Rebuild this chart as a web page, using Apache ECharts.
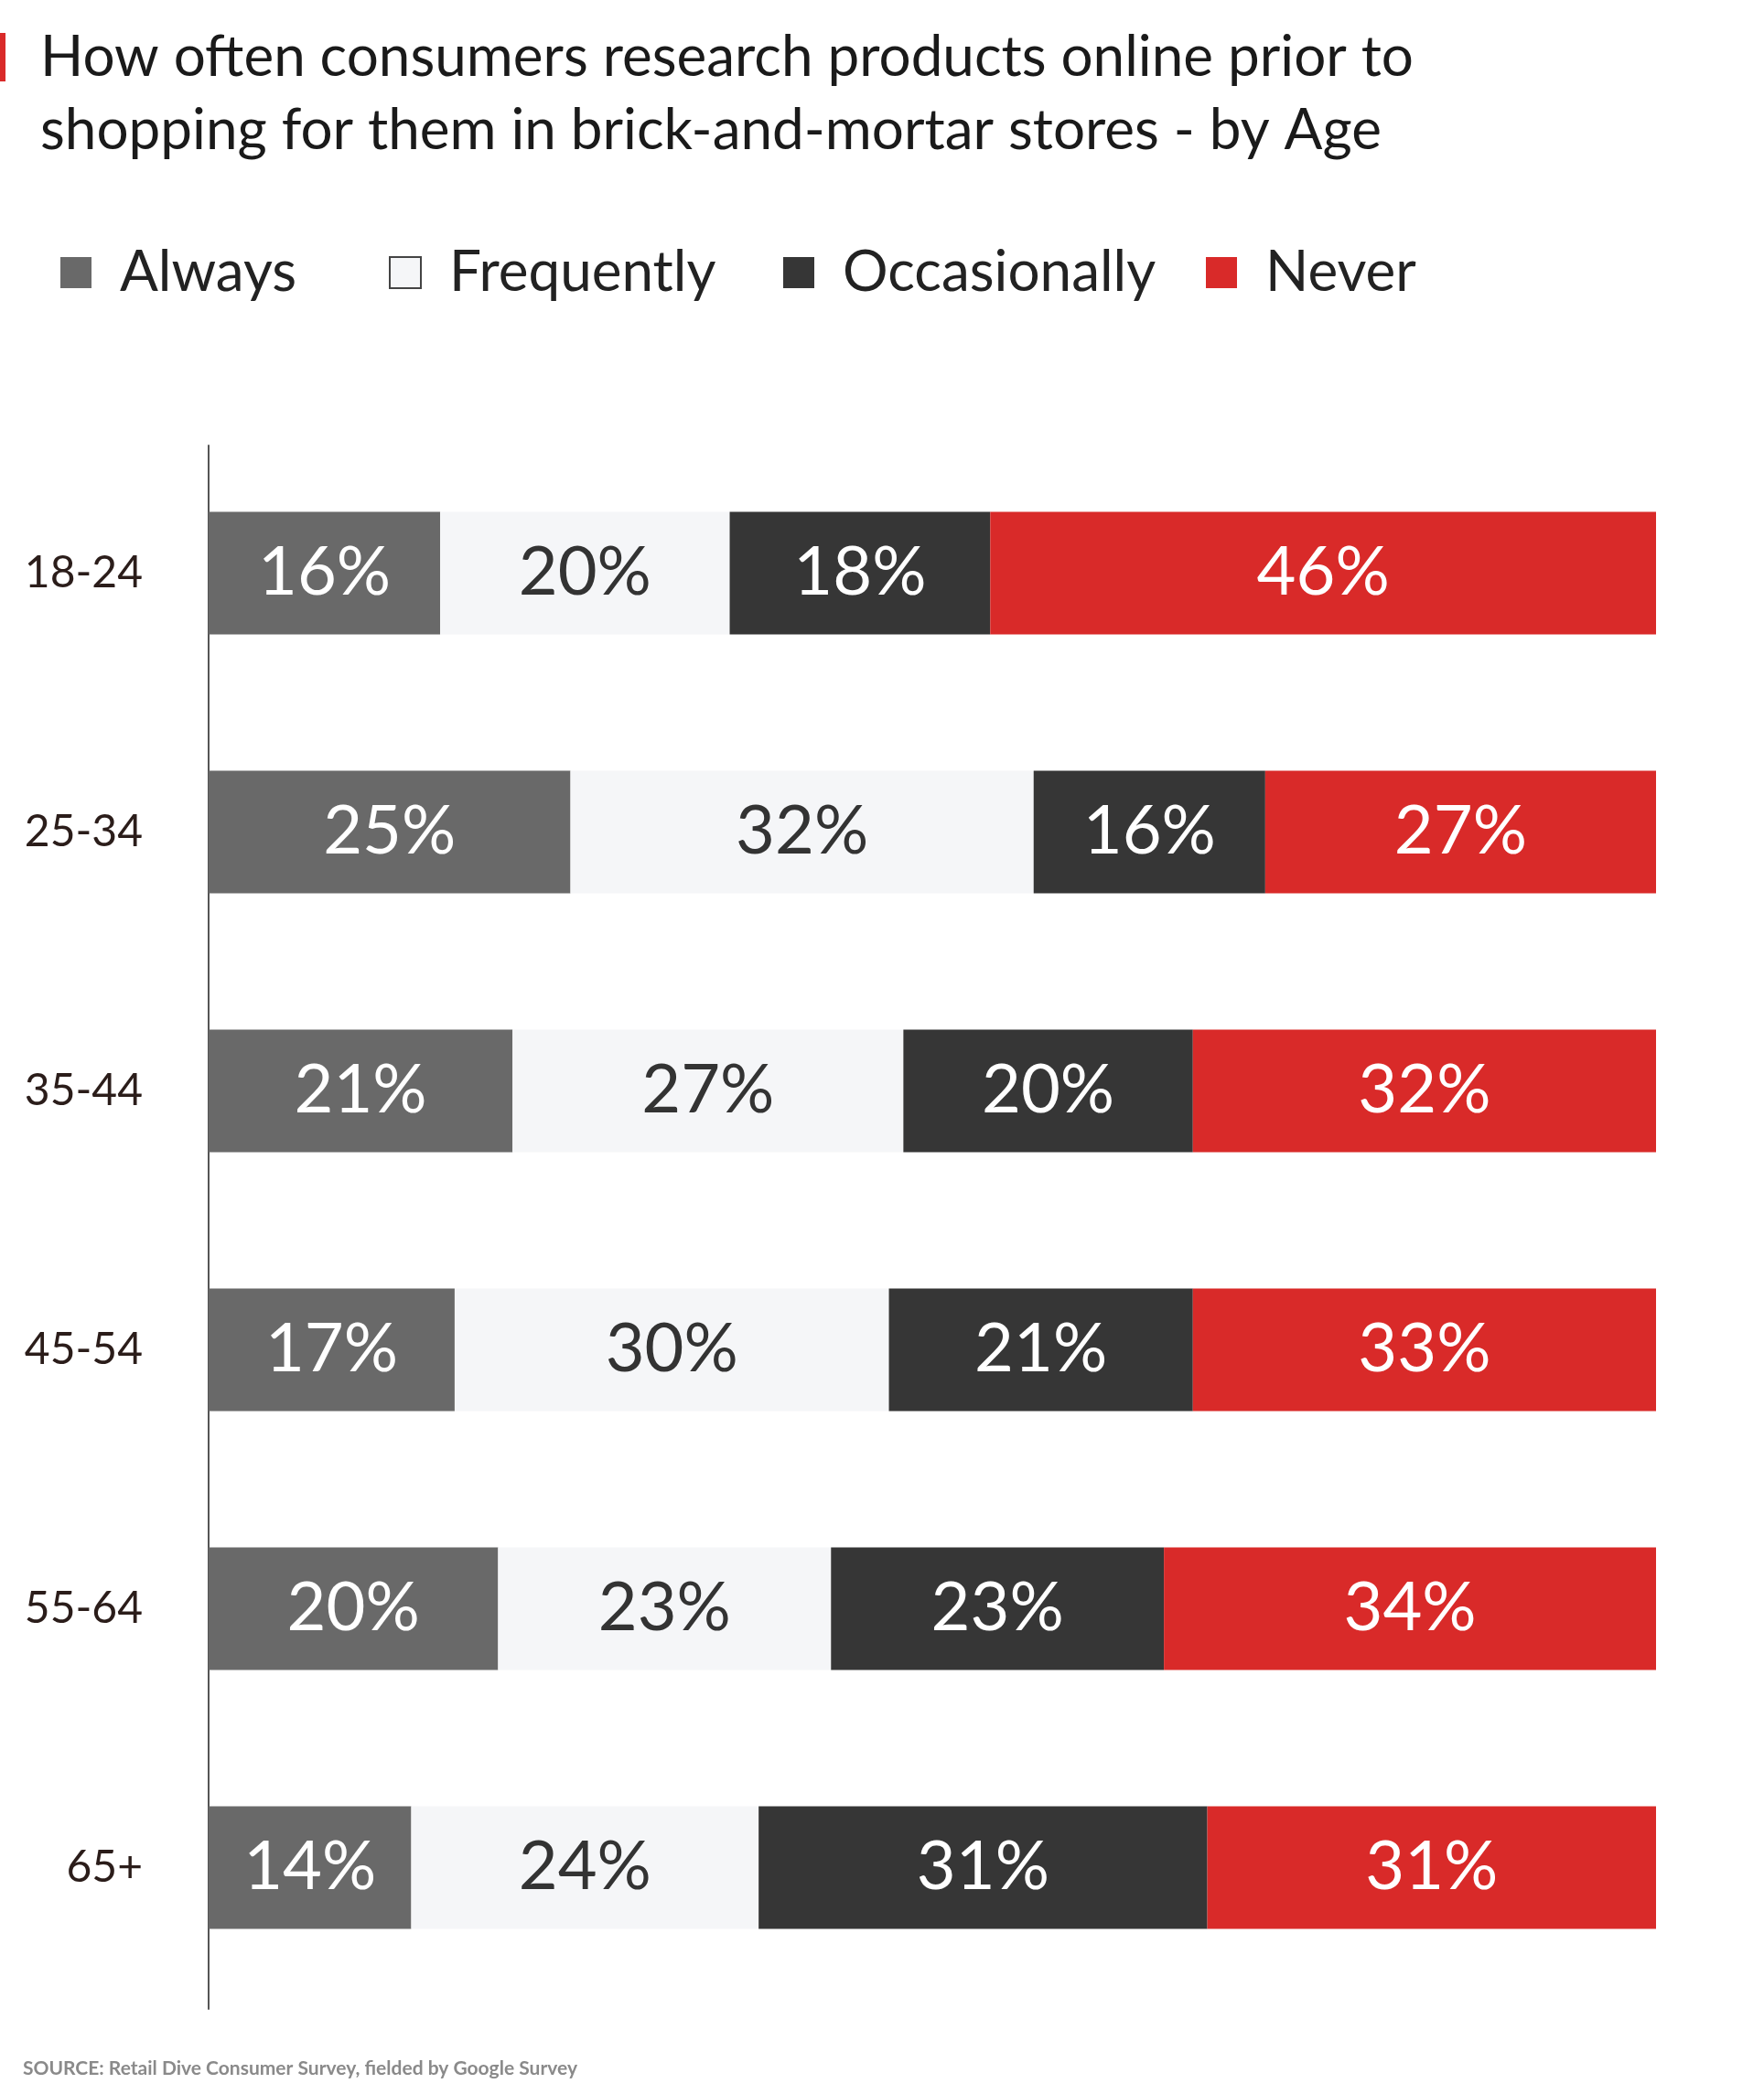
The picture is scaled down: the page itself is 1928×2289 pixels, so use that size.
<!DOCTYPE html>
<html lang="en">

<head>
  <meta charset="UTF-8" />
  <title>Research online before shopping - by Age</title>
  <script src="https://cdn.jsdelivr.net/npm/echarts@6/dist/echarts.min.js"></script>
  <style>
    html, body { margin: 0; padding: 0; background: #fff; }
  </style>
</head>

<body>
  <div id="main" style="width: 1928px;height:2289px;"></div>
  <script type="text/javascript">
    // 年龄分组（从上到下）
    var ages = ['18-24', '25-34', '35-44', '45-54', '55-64', '65+']

    // 各选项的百分比
    var always = [16, 25, 21, 17, 20, 14]
    var frequently = [20, 32, 27, 30, 23, 24]
    var occasionally = [18, 16, 20, 21, 23, 31]
    var never = [46, 27, 32, 33, 34, 31]

    var seriesNames = ['Always', 'Frequently', 'Occasionally', 'Never']
    var seriesColors = ['#696969', '#f5f6f8', '#363636', '#d92a29']
    var labelColors = ['#ffffff', '#333333', '#ffffff', '#ffffff']
    var seriesData = [always, frequently, occasionally, never]

    // 图例位置（每项单独放）
    var legendLeft = [61, 420, 851, 1313]

    var fontFamily = 'Lato, "Open Sans", sans-serif'

    var myChart = echarts.init(document.getElementById('main'))

    var legends = seriesNames.map(function (name, i) {
      var item = { name: name }
      if (name === 'Frequently') {
        item.itemStyle = { borderColor: '#444', borderWidth: 2 }
      }
      return {
        data: [item],
        left: legendLeft[i],
        top: 262,
        icon: 'rect',
        itemWidth: 34,
        itemHeight: 34,
        itemGap: 0,
        selectedMode: false,
        textStyle: {
          fontFamily: fontFamily,
          fontSize: 62,
          color: '#222',
          padding: [0, 0, 0, 26]
        }
      }
    })

    var series = seriesNames.map(function (name, i) {
      return {
        name: name,
        type: 'bar',
        stack: 'total',
        barWidth: 134,
        data: seriesData[i],
        itemStyle: { color: seriesColors[i] },
        label: {
          show: true,
          position: 'inside',
          formatter: '{c}%',
          fontFamily: fontFamily,
          fontSize: 74,
          color: labelColors[i]
        }
      }
    })

    var option = {
      backgroundColor: '#ffffff',
      animation: false,
      title: {
        text: 'How often consumers research products online prior to\nshopping for them in brick-and-mortar stores - by Age',
        left: 39,
        top: 18,
        textStyle: {
          fontFamily: fontFamily,
          fontSize: 62,
          fontWeight: 'normal',
          lineHeight: 80,
          color: '#1a1a1a'
        }
      },
      legend: legends,
      grid: [
        // 条形图区域
        { left: 228, right: 118, top: 485, bottom: 106, containLabel: false },
        // 仅用于绘制左侧竖线
        { left: 228, right: 118, top: 487, bottom: 93, containLabel: false }
      ],
      xAxis: [
        { type: 'value', gridIndex: 0, min: 0, max: 100, show: false },
        { type: 'value', gridIndex: 1, min: 0, max: 100, show: false }
      ],
      yAxis: [
        {
          type: 'category',
          gridIndex: 0,
          inverse: true,
          data: ages,
          axisLine: { show: false },
          axisTick: { show: false },
          axisLabel: {
            margin: 72,
            fontFamily: fontFamily,
            fontSize: 48,
            color: '#2b1d1a'
          }
        },
        {
          type: 'value',
          gridIndex: 1,
          min: 0,
          max: 1,
          splitLine: { show: false },
          axisTick: { show: false },
          axisLabel: { show: false },
          axisLine: { show: true, lineStyle: { color: '#555', width: 2 } }
        }
      ],
      series: series,
      graphic: [
        // 标题左侧红色竖线
        {
          type: 'rect',
          left: 0,
          top: 36,
          shape: { width: 6, height: 53 },
          style: { fill: '#d92a29' }
        },
        {
          type: 'text',
          left: 25,
          top: 2251,
          style: {
            text: 'SOURCE: Retail Dive Consumer Survey, fielded by Google Survey',
            fontFamily: fontFamily,
            fontSize: 21,
            fontWeight: 'bold',
            fill: '#8a8a8a'
          }
        }
      ]
    }

    myChart.setOption(option)
  </script>
</body>

</html>
